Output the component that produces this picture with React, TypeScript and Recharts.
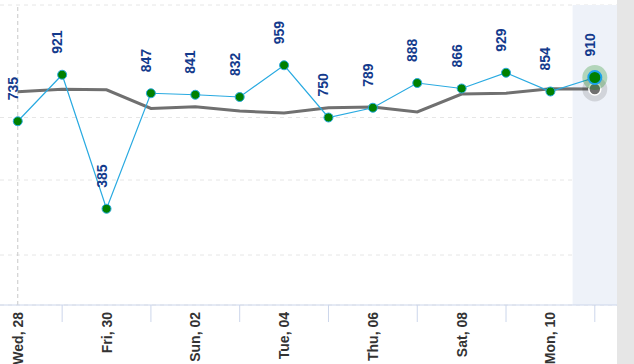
import {
  LineChart,
  Line,
  XAxis,
  YAxis,
  CartesianGrid,
  ReferenceArea,
  ReferenceLine,
  LabelList,
} from "recharts";

const days = [
  "Wed, 28", "Thu, 29", "Fri, 30", "Sat, 01", "Sun, 02", "Mon, 03", "Tue, 04",
  "Wed, 05", "Thu, 06", "Fri, 07", "Sat, 08", "Sun, 09", "Mon, 10", "Tue, 11",
];
const counts = [735, 921, 385, 847, 841, 832, 959, 750, 789, 888, 866, 929, 854, 910];
const average = [853, 863, 861, 786, 793, 776, 768, 789, 792, 772, 844, 847, 865, 864];
const yTicks = [0, 200, 500, 750, 1200];

const data = days.map((day, i) => ({ i, day, v: counts[i], avg: average[i] }));
const last = data.length - 1;

const FONT = "'Liberation Sans', Arial, sans-serif";

function AxisTick({ x, y, payload }: any) {
  const i = payload.value as number;
  if (i % 2 === 1) {
    return <line x1={x} x2={x} y1={y} y2={y + 17} stroke="#ccd6eb" />;
  }
  return (
    <text
      transform={`translate(${x + 5}, ${y + 7}) rotate(-90)`}
      textAnchor="end"
      fontSize={14}
      fontWeight="bold"
      fontFamily={FONT}
      fill="#333333"
    >
      {days[i]}
    </text>
  );
}

function ValueLabel({ x, y, value }: any) {
  return (
    <text
      transform={`translate(${x}, ${y - 21}) rotate(-90)`}
      textAnchor="start"
      fontSize={14}
      fontWeight="bold"
      fontFamily={FONT}
      fill="#133a8c"
    >
      {value}
    </text>
  );
}

function BlueDot({ cx, cy, index }: any) {
  if (index === last) {
    return (
      <g key={`b${index}`}>
        <circle cx={cx} cy={cy} r={12.5} fill="#008000" fillOpacity={0.25} />
        <circle cx={cx} cy={cy} r={6.5} fill="#008000" stroke="#1ca3ec" strokeWidth={2} />
      </g>
    );
  }
  return (
    <circle key={`b${index}`} cx={cx} cy={cy} r={4.5} fill="#008000" stroke="#29aae1" strokeWidth={1} />
  );
}

function GrayDot({ cx, cy, index }: any) {
  if (index !== last) return <g key={`g${index}`} />;
  return (
    <g key={`g${index}`}>
      <circle cx={cx} cy={cy} r={12.5} fill="#000000" fillOpacity={0.12} />
      <circle cx={cx} cy={cy} r={6} fill="#707070" stroke="#ffffff" strokeWidth={1.5} />
    </g>
  );
}

export default function App() {
  return (
    <div style={{ position: "relative", width: 634, height: 364, background: "#ffffff" }}>
      <style>{"body{margin:0}"}</style>
      <div
        style={{ position: "absolute", left: 617, top: 0, width: 17, height: 364, background: "#e6e6e6" }}
      />
      <LineChart
        width={634}
        height={364}
        data={data}
        margin={{ top: 5, right: 17, left: 0, bottom: 0 }}
      >
        <ReferenceArea x1={12.5} x2={13.5} fill="#eef2f9" fillOpacity={1} stroke="none" />
        <CartesianGrid vertical={false} stroke="#e6e6e6" strokeDasharray="4 4" />
        <XAxis
          type="number"
          dataKey="i"
          domain={[-0.4, 13.5]}
          ticks={data.map((d) => d.i)}
          interval={0}
          allowDataOverflow
          height={59}
          tickLine={false}
          tickSize={0}
          tickMargin={0}
          axisLine={{ stroke: "#ccd6eb" }}
          tick={<AxisTick />}
        />
        <YAxis hide domain={[0, 1200]} ticks={yTicks} />
        <ReferenceLine x={0} stroke="#c8c8c8" strokeDasharray="4 3" />
        <Line
          dataKey="avg"
          stroke="#707070"
          strokeWidth={3}
          dot={<GrayDot />}
          activeDot={false}
          isAnimationActive={false}
        />
        <Line
          dataKey="v"
          stroke="#29aae1"
          strokeWidth={1.2}
          dot={<BlueDot />}
          activeDot={false}
          isAnimationActive={false}
        >
          <LabelList dataKey="v" content={<ValueLabel />} />
        </Line>
      </LineChart>
    </div>
  );
}
